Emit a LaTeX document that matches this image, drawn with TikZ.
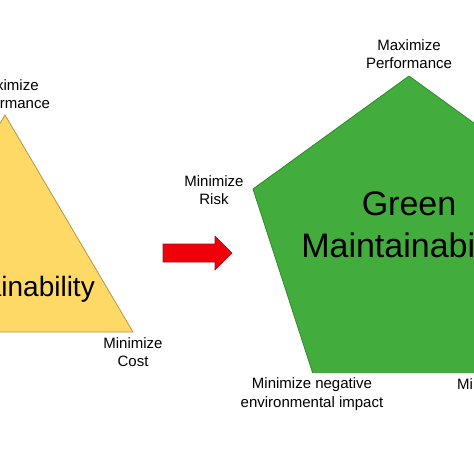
\documentclass[tikz,border=0pt]{standalone}
\usepackage{fontspec}
\setmainfont{Liberation Sans}
\definecolor{triFill}{RGB}{255,217,102}
\definecolor{triEdge}{RGB}{180,150,70}
\definecolor{pentFill}{RGB}{66,172,60}
\definecolor{pentEdge}{RGB}{50,140,45}
\definecolor{arrRed}{RGB}{240,0,10}
\definecolor{arrEdge}{RGB}{150,20,30}
\tikzset{
  lbl/.style={align=center,inner sep=0pt,font=\fontsize{15}{18.5}\selectfont},
  big/.style={inner sep=0pt,font=\fontsize{34}{42}\selectfont},
  bigl/.style={inner sep=0pt,font=\fontsize{28}{34}\selectfont}
}
\begin{document}
\begin{tikzpicture}[x=1pt,y=-1pt]
\useasboundingbox (0,0) rectangle (474,474);
\clip (0,0) rectangle (474,474);
\fill[white] (0,0) rectangle (474,474);
% triangle
\coordinate (tA) at (5,115);
\coordinate (tB) at (133,332);
\coordinate (tC) at (-123,332);
\filldraw[fill=triFill,draw=triEdge,line width=0.8pt] (tA) -- (tB) -- (tC) -- cycle;
\node[bigl,anchor=base east] (sust) at (95,296) {Sustainability};
\node[lbl] (tmax) at (7,94) {Maximize\\Performance};
\node[lbl] (tcost) at (133,352) {Minimize\\Cost};
% arrow
\coordinate (a1) at (163,244);
\filldraw[fill=arrRed,draw=arrEdge,line width=0.6pt]
  (a1) -- (215,244) -- (215,236) -- (232,253) -- (215,270) -- (215,262) -- (163,262) -- cycle;
% pentagon
\coordinate (pc) at (409,240);
\coordinate (p1) at (409,76);
\coordinate (p2) at (253,189);
\coordinate (p3) at (312.6,372.7);
\coordinate (p4) at (505.4,372.7);
\coordinate (p5) at (565,189);
\filldraw[fill=pentFill,draw=pentEdge,line width=0.8pt] (p1) -- (p2) -- (p3) -- (p4) -- (p5) -- cycle;
\node[big,anchor=base] (g1) at (409,215) {Green};
\node[big,anchor=base] (g2) at (409,257) {Maintainability};
\node[lbl] (pmax) at (409,54) {Maximize\\Performance};
\node[lbl] (prisk) at (214,190) {Minimize\\Risk};
\node[lbl] (penv) at (312,394) {Minimize negative\\environmental impact};
\node[lbl,anchor=west] (pmin) at (457,384) {Minimize};
\end{tikzpicture}
\end{document}
